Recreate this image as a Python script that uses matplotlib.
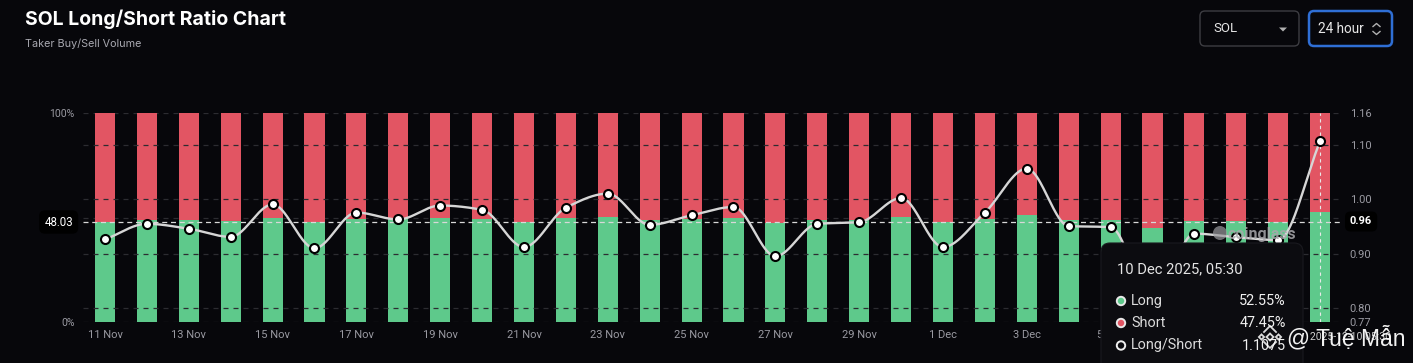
import numpy as np
import matplotlib
matplotlib.use("Agg")
import matplotlib.pyplot as plt
from matplotlib.patches import FancyBboxPatch, Polygon, Circle

# ---------------- data ----------------
dates = ["11 Nov", "12 Nov", "13 Nov", "14 Nov", "15 Nov", "16 Nov", "17 Nov", "18 Nov",
         "19 Nov", "20 Nov", "21 Nov", "22 Nov", "23 Nov", "24 Nov", "25 Nov", "26 Nov",
         "27 Nov", "28 Nov", "29 Nov", "30 Nov", "1 Dec", "2 Dec", "3 Dec", "4 Dec",
         "5 Dec", "6 Dec", "7 Dec", "8 Dec", "9 Dec", "10 Dec"]
long_pct = [48.08, 48.85, 48.61, 48.21, 49.77, 47.64, 49.39, 49.06, 49.72, 49.52,
            47.70, 49.62, 50.27, 48.80, 49.26, 49.65, 47.23, 48.85, 48.93, 50.07,
            47.70, 49.39, 51.39, 48.74, 48.69, 44.84, 48.37, 48.19, 48.05, 52.55]
short_pct = [100 - v for v in long_pct]
ratio = [l / s for l, s in zip(long_pct, short_pct)]
xtick_labels = dates[::2]
right_ticks = [0.7734, 0.80, 0.90, 1.00, 1.10, 1.16]
right_tick_labels = ["0.77", "0.80", "0.90", "1.00", "1.10", "1.16"]
crosshair_pct = 48.03
crosshair_ratio_label = "0.96"
tooltip_title = "10 Dec 2025, 05:30"
tooltip_rows = [("Long", "52.55%"), ("Short", "47.45%"), ("Long/Short", "1.1075")]

# ---------------- style ----------------
BG = "#07070b"
RED = "#e25563"
GREEN = "#5ec98b"
GRID = "#2c2c31"
TICK = "#9a9aa2"
W, H = 1413, 363

plt.rcParams['font.family'] = ['Roboto', 'DejaVu Sans']

fig = plt.figure(figsize=(W / 100, H / 100), dpi=100, facecolor=BG)
ax = fig.add_axes([83 / W, (H - 322) / H, 1257 / W, 209 / H])
ax.set_facecolor(BG)
ax2 = ax.twinx()

n = len(long_pct)
x = np.arange(n)
ax.bar(x, long_pct, width=0.48, color=GREEN, zorder=2)
ax.bar(x, short_pct, width=0.48, bottom=long_pct, color=RED, zorder=2)
ax.set_xlim(-0.525, n - 0.525)
ax.set_ylim(0, 100)
ax2.set_ylim(0.7734, 1.16)

# grid lines
for v in [0, 50, 100]:
    ax.axhline(v, color=GRID, lw=0.9, ls=(0, (4, 4)), zorder=1)
for v in [0.80, 0.90, 1.00, 1.10]:
    ax2.axhline(v, color=GRID, lw=0.9, ls=(0, (4, 4)), zorder=0)

for a in (ax, ax2):
    for s in a.spines.values():
        s.set_visible(False)

ax.set_yticks([0, 100])
ax.set_yticklabels(["0%", "100%"])
ax.tick_params(axis='y', length=0, pad=6, labelsize=7.5, labelcolor=TICK)
ax.set_xticks(x[::2])
ax.set_xticklabels(xtick_labels)
ax.tick_params(axis='x', length=0, pad=6, labelsize=8, labelcolor=TICK)
ax2.set_yticks(right_ticks)
ax2.set_yticklabels(right_tick_labels)
ax2.tick_params(axis='y', length=0, pad=7, labelsize=8, labelcolor=TICK)


# smooth monotone line (PCHIP)
def pchip(xk, yk, xs):
    xk = np.asarray(xk, float)
    yk = np.asarray(yk, float)
    h = np.diff(xk)
    d = np.diff(yk) / h
    m = np.zeros_like(yk)
    for k in range(1, len(yk) - 1):
        if d[k - 1] * d[k] > 0:
            w1 = 2 * h[k] + h[k - 1]
            w2 = h[k] + 2 * h[k - 1]
            m[k] = (w1 + w2) / (w1 / d[k - 1] + w2 / d[k])
    m[0] = d[0]
    m[-1] = d[-1]
    out = np.empty_like(xs)
    for i, xv in enumerate(xs):
        k = min(max(np.searchsorted(xk, xv) - 1, 0), len(xk) - 2)
        t = (xv - xk[k]) / h[k]
        h00 = 2 * t**3 - 3 * t**2 + 1
        h10 = t**3 - 2 * t**2 + t
        h01 = -2 * t**3 + 3 * t**2
        h11 = t**3 - t**2
        out[i] = h00 * yk[k] + h10 * h[k] * m[k] + h01 * yk[k + 1] + h11 * h[k] * m[k + 1]
    return out


xs = np.linspace(0, n - 1, 1200)
ax2.plot(xs, pchip(x, ratio, xs), color="#d6d6d6", lw=1.7, zorder=4, solid_capstyle='round')
ax2.plot(x, ratio, ls='none', marker='o', ms=6.5, mfc='white', mec='black', mew=1.5, zorder=5)

# crosshair
ax.axhline(crosshair_pct, color="#d8d8d8", lw=0.9, ls=(0, (4, 3)), zorder=3)
ax2.axvline(n - 1, color="#e8e8e8", lw=0.8, ls=(0, (3, 3)), zorder=3)

# ---------------- overlay (pixel coordinates, y up) ----------------
ov = fig.add_axes([0, 0, 1, 1], zorder=10)
ov.set_xlim(0, W)
ov.set_ylim(0, H)
ov.axis('off')
ov.patch.set_alpha(0)


def Y(y):
    return H - y


# titles
ov.text(25, Y(19), "SOL Long/Short Ratio Chart", fontsize=14, fontweight='bold',
        color='white', va='center', ha='left', family=['Inter', 'DejaVu Sans'])
ov.text(25, Y(44), "Taker Buy/Sell Volume", fontsize=7.8, color="#a8a8b0",
        va='center', ha='left', family=['Inter', 'DejaVu Sans'])

# controls
ov.add_patch(FancyBboxPatch((1200, Y(46)), 99, 35, boxstyle="round,pad=0,rounding_size=5",
                            fc=BG, ec="#3d3d42", lw=1))
ov.text(1213, Y(29), "SOL", fontsize=9.5, color="#e6e6e6", va='center', ha='left')
ov.add_patch(Polygon([(1279, Y(27.5)), (1287, Y(27.5)), (1283, Y(31.5))], closed=True,
                     fc="#b0b0b0", ec='none'))
ov.add_patch(FancyBboxPatch((1309, Y(46)), 83, 35, boxstyle="round,pad=0,rounding_size=5",
                            fc=BG, ec="#2f6fd6", lw=1.8))
ov.text(1318, Y(29), "24 hour", fontsize=9.8, color="#e6e6e6", va='center', ha='left')
ov.plot([1373, 1376.5, 1380], [Y(26.5), Y(23.5), Y(26.5)], color="#b0b0b0", lw=1)
ov.plot([1373, 1376.5, 1380], [Y(31.5), Y(34.5), Y(31.5)], color="#b0b0b0", lw=1)

# crosshair axis labels
ov.text(73, Y(222), f"{crosshair_pct:.2f}", fontsize=8.3, color='white', ha='right', va='center',
        bbox=dict(boxstyle="round,pad=0.45,rounding_size=0.5", fc="#000000", ec='none'))
ov.text(1350, Y(221.5), crosshair_ratio_label, fontsize=8, color='white', ha='left', va='center',
        fontweight='bold',
        bbox=dict(boxstyle="round,pad=0.45,rounding_size=0.5", fc="#000000", ec='none'))
ov.text(1310, Y(337), "2025-12-10 05:30", fontsize=7.5, color='#d0d0d0', ha='left', va='center',
        zorder=2)

# coinglass watermark
ov.add_patch(Circle((1220, Y(233)), 7, fc="#9a9a9e", ec='none', alpha=0.7, zorder=3))
ov.text(1228, Y(235), "coinglass", fontsize=11.5, fontweight='bold', color="#a8a8ac",
        alpha=0.85, ha='left', va='center', zorder=3)

# tooltip
ov.add_patch(FancyBboxPatch((1101, Y(372)), 202, 129, boxstyle="round,pad=0,rounding_size=9",
                            fc="#0c0c10", ec="#1a1a1f", lw=0.8, zorder=5))
ov.text(1117, Y(269), tooltip_title, fontsize=10.6, color="#e4e4e4", ha='left', va='center',
        zorder=6)
row_y = [301, 323, 345.5]
dot_styles = [dict(fc=GREEN, ec="#e8e8e8"), dict(fc=RED, ec="#e8e8e8"),
              dict(fc="#0c0c10", ec="#f0f0f0")]
for (lab, val), yy, st in zip(tooltip_rows, row_y, dot_styles):
    ov.add_patch(Circle((1121, Y(yy)), 4.2, lw=1.4, zorder=6, **st))
    ov.text(1131, Y(yy), lab, fontsize=10.4, color="#dcdcdc", ha='left', va='center', zorder=6)
    ov.text(1286, Y(yy), val, fontsize=10.4, color="#f0f0f0", ha='right', va='center', zorder=6)

# author watermark with binance-like logo
cx, cy = 1270, Y(337)


def diamond(xc, yc, r):
    return Polygon([(xc, yc + r), (xc + r, yc), (xc, yc - r), (xc - r, yc)], closed=True,
                   fc='none', ec='white', lw=1.3, alpha=0.85, zorder=8)


ov.add_patch(diamond(cx, cy, 3.5))
ov.add_patch(diamond(cx - 8.5, cy, 2.6))
ov.add_patch(diamond(cx + 8.5, cy, 2.6))
ov.plot([cx - 6, cx, cx + 6], [cy + 5, cy + 11, cy + 5], color='white', lw=1.3, alpha=0.85, zorder=8)
ov.plot([cx - 6, cx, cx + 6], [cy - 5, cy - 11, cy - 5], color='white', lw=1.3, alpha=0.85, zorder=8)
ov.text(1287, Y(338), "@ Tuệ Mẫn", fontsize=16.5, color='white', ha='left', va='center',
        family=['Liberation Sans', 'DejaVu Sans'], alpha=0.95, zorder=8)

fig.savefig("out.png", dpi=100, facecolor=BG)
